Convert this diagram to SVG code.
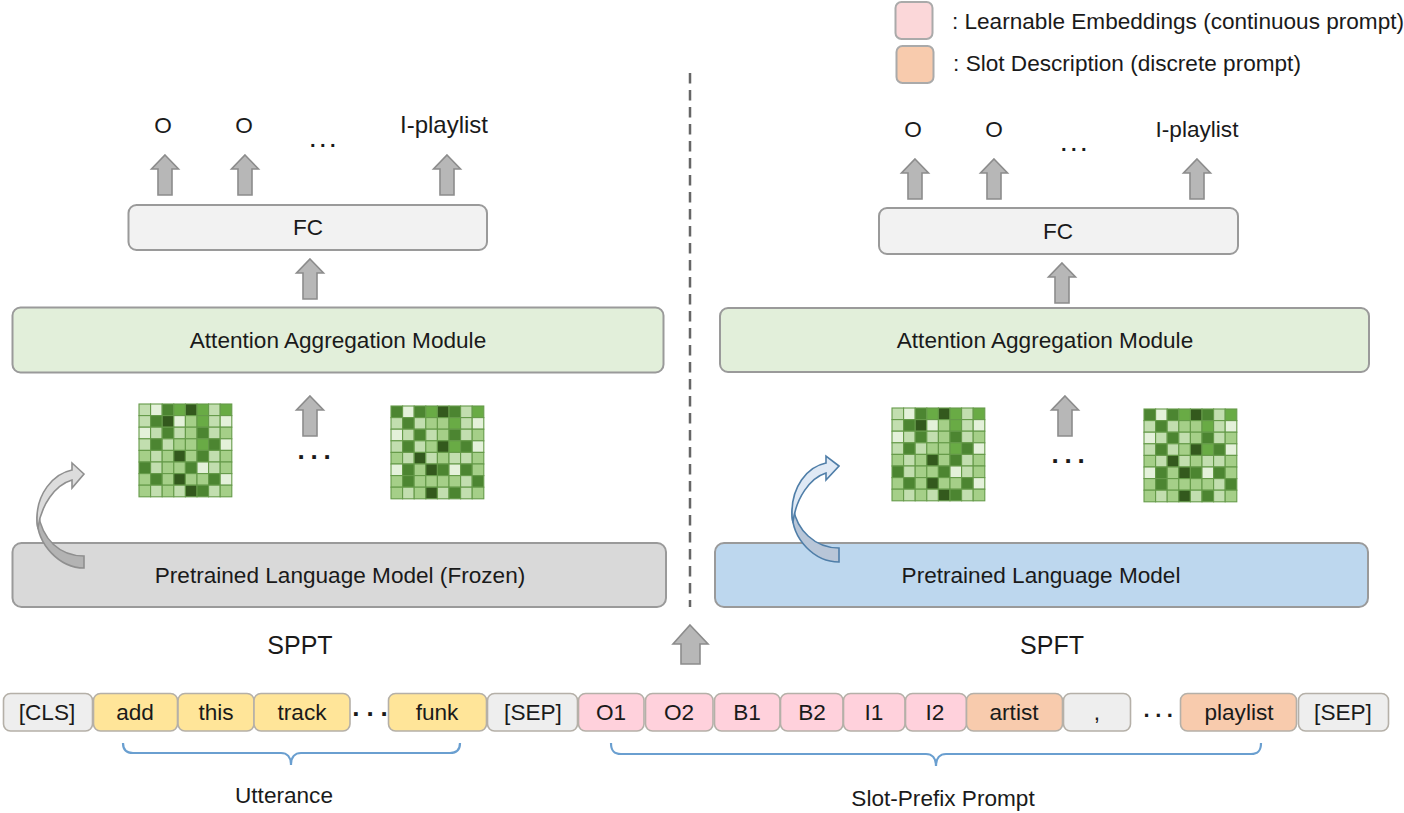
<svg xmlns="http://www.w3.org/2000/svg" xmlns:xlink="http://www.w3.org/1999/xlink" width="1404" height="813" viewBox="0 0 1404 813">
<style>
text{font-family:"Liberation Sans",Arial,sans-serif;font-size:22.6px;fill:#1a1a1a;text-anchor:middle}
.box{stroke:#9a9a9a;stroke-width:2}
.tok{stroke:#b5b0a8;stroke-width:1.6}
.gray{fill:#eeeeee}.yel{fill:#ffe599}.pink{fill:#ffd1dc}.org{fill:#f8cbad}
.arr{fill:#b7b7b7;stroke:#8c8c8c;stroke-width:1.6}
.brace{fill:none;stroke:#6a9fd0;stroke-width:2.200}
.dash{fill:none;stroke:#666;stroke-width:2.500;stroke-dasharray:10.500 6.500}
.dots{font-weight:bold}
.title{font-size:25px}
.c1{fill:#e4f1da}.c2{fill:#c2deaf}.c3{fill:#a5cf88}.c4{fill:#69ab45}.c5{fill:#4c8531}.c6{fill:#33591d}
.grid rect{stroke:#659a49;stroke-width:1.1;width:11.6px;height:11.6px}
</style>
<defs>
<path id="up" class="arr" d="M0,0L13.5,14H7V40H-7V14H-13.5Z"/>
<g id="g1" class="grid">
<rect x="0" y="0" class="c2"/><rect x="11.6" y="0" class="c1"/><rect x="23.2" y="0" class="c5"/><rect x="34.8" y="0" class="c4"/><rect x="46.4" y="0" class="c6"/><rect x="58" y="0" class="c4"/><rect x="69.6" y="0" class="c2"/><rect x="81.2" y="0" class="c4"/>
<rect x="0" y="11.6" class="c2"/><rect x="11.6" y="11.6" class="c5"/><rect x="23.2" y="11.6" class="c6"/><rect x="34.8" y="11.6" class="c1"/><rect x="46.4" y="11.6" class="c3"/><rect x="58" y="11.6" class="c4"/><rect x="69.6" y="11.6" class="c2"/><rect x="81.2" y="11.6" class="c1"/>
<rect x="0" y="23.2" class="c1"/><rect x="11.6" y="23.2" class="c2"/><rect x="23.2" y="23.2" class="c5"/><rect x="34.8" y="23.2" class="c2"/><rect x="46.4" y="23.2" class="c3"/><rect x="58" y="23.2" class="c5"/><rect x="69.6" y="23.2" class="c2"/><rect x="81.2" y="23.2" class="c3"/>
<rect x="0" y="34.8" class="c2"/><rect x="11.6" y="34.8" class="c5"/><rect x="23.2" y="34.8" class="c2"/><rect x="34.8" y="34.8" class="c3"/><rect x="46.4" y="34.8" class="c3"/><rect x="58" y="34.8" class="c4"/><rect x="69.6" y="34.8" class="c5"/><rect x="81.2" y="34.8" class="c1"/>
<rect x="0" y="46.4" class="c3"/><rect x="11.6" y="46.4" class="c2"/><rect x="23.2" y="46.4" class="c3"/><rect x="34.8" y="46.4" class="c6"/><rect x="46.4" y="46.4" class="c3"/><rect x="58" y="46.4" class="c5"/><rect x="69.6" y="46.4" class="c2"/><rect x="81.2" y="46.4" class="c3"/>
<rect x="0" y="58" class="c5"/><rect x="11.6" y="58" class="c2"/><rect x="23.2" y="58" class="c3"/><rect x="34.8" y="58" class="c3"/><rect x="46.4" y="58" class="c5"/><rect x="58" y="58" class="c1"/><rect x="69.6" y="58" class="c2"/><rect x="81.2" y="58" class="c3"/>
<rect x="0" y="69.6" class="c3"/><rect x="11.6" y="69.6" class="c5"/><rect x="23.2" y="69.6" class="c3"/><rect x="34.8" y="69.6" class="c6"/><rect x="46.4" y="69.6" class="c3"/><rect x="58" y="69.6" class="c3"/><rect x="69.6" y="69.6" class="c5"/><rect x="81.2" y="69.6" class="c1"/>
<rect x="0" y="81.2" class="c3"/><rect x="11.6" y="81.2" class="c2"/><rect x="23.2" y="81.2" class="c3"/><rect x="34.8" y="81.2" class="c2"/><rect x="46.4" y="81.2" class="c6"/><rect x="58" y="81.2" class="c5"/><rect x="69.6" y="81.2" class="c2"/><rect x="81.2" y="81.2" class="c3"/>
</g>
<g id="g2" class="grid">
<rect x="0" y="0" class="c5"/><rect x="11.6" y="0" class="c1"/><rect x="23.2" y="0" class="c5"/><rect x="34.8" y="0" class="c4"/><rect x="46.4" y="0" class="c6"/><rect x="58" y="0" class="c5"/><rect x="69.6" y="0" class="c2"/><rect x="81.2" y="0" class="c4"/>
<rect x="0" y="11.6" class="c2"/><rect x="11.6" y="11.6" class="c5"/><rect x="23.2" y="11.6" class="c2"/><rect x="34.8" y="11.6" class="c3"/><rect x="46.4" y="11.6" class="c3"/><rect x="58" y="11.6" class="c4"/><rect x="69.6" y="11.6" class="c2"/><rect x="81.2" y="11.6" class="c1"/>
<rect x="0" y="23.2" class="c1"/><rect x="11.6" y="23.2" class="c2"/><rect x="23.2" y="23.2" class="c5"/><rect x="34.8" y="23.2" class="c2"/><rect x="46.4" y="23.2" class="c3"/><rect x="58" y="23.2" class="c5"/><rect x="69.6" y="23.2" class="c2"/><rect x="81.2" y="23.2" class="c3"/>
<rect x="0" y="34.8" class="c2"/><rect x="11.6" y="34.8" class="c5"/><rect x="23.2" y="34.8" class="c2"/><rect x="34.8" y="34.8" class="c3"/><rect x="46.4" y="34.8" class="c6"/><rect x="58" y="34.8" class="c4"/><rect x="69.6" y="34.8" class="c5"/><rect x="81.2" y="34.8" class="c1"/>
<rect x="0" y="46.4" class="c3"/><rect x="11.6" y="46.4" class="c2"/><rect x="23.2" y="46.4" class="c6"/><rect x="34.8" y="46.4" class="c2"/><rect x="46.4" y="46.4" class="c3"/><rect x="58" y="46.4" class="c2"/><rect x="69.6" y="46.4" class="c2"/><rect x="81.2" y="46.4" class="c3"/>
<rect x="0" y="58" class="c1"/><rect x="11.6" y="58" class="c5"/><rect x="23.2" y="58" class="c3"/><rect x="34.8" y="58" class="c6"/><rect x="46.4" y="58" class="c5"/><rect x="58" y="58" class="c1"/><rect x="69.6" y="58" class="c5"/><rect x="81.2" y="58" class="c3"/>
<rect x="0" y="69.6" class="c3"/><rect x="11.6" y="69.6" class="c5"/><rect x="23.2" y="69.6" class="c3"/><rect x="34.8" y="69.6" class="c3"/><rect x="46.4" y="69.6" class="c3"/><rect x="58" y="69.6" class="c3"/><rect x="69.6" y="69.6" class="c2"/><rect x="81.2" y="69.6" class="c5"/>
<rect x="0" y="81.2" class="c3"/><rect x="11.6" y="81.2" class="c2"/><rect x="23.2" y="81.2" class="c3"/><rect x="34.8" y="81.2" class="c6"/><rect x="46.4" y="81.2" class="c2"/><rect x="58" y="81.2" class="c5"/><rect x="69.6" y="81.2" class="c2"/><rect x="81.2" y="81.2" class="c3"/>
</g>
</defs>

<g id="legend">
<rect x="895.5" y="2" width="37" height="37" rx="6" fill="#fbd7d9" stroke="#aaa" stroke-width="2"/>
<text x="1178" y="28.5">: Learnable Embeddings (continuous prompt)</text>
<rect x="896.5" y="46" width="37" height="37" rx="6" fill="#f8cbad" stroke="#aaa" stroke-width="2"/>
<text x="1127" y="70.5">: Slot Description (discrete prompt)</text>
</g>

<g id="connectors">
<path class="dash" d="M690,73V607"/>
<use href="#up" x="165" y="155"/><use href="#up" x="245" y="155"/><use href="#up" x="447" y="155"/>
<use href="#up" x="310" y="259"/><use href="#up" x="310" y="396"/>
<use href="#up" x="915" y="159"/><use href="#up" x="994" y="159"/><use href="#up" x="1197" y="159"/>
<use href="#up" x="1062" y="263"/><use href="#up" x="1065" y="396"/>
<path class="arr" d="M690,625L708,644H700V664H681V644H673Z"/>
<path class="brace" d="M123,743C123,750 126,753 133,753H281C287,753 291,757 291,765C291,757 295,753 301,753H450C457,753 460,750 460,743"/>
<path class="brace" d="M611,743C611,751 614,754 621,754H926C932,754 936,758 936,766C936,758 940,754 946,754H1251C1258,754 1261,751 1261,743"/>
</g>

<g id="spt-fc"><rect class="box" x="128.500" y="205" width="358.500" height="45" rx="8" fill="#f2f2f2"/><text x="308" y="235">FC</text></g>
<g id="spt-attn"><rect class="box" x="12.500" y="307.500" width="651" height="65" rx="8" fill="#e2efda"/><text x="338" y="348">Attention Aggregation Module</text></g>
<g id="spt-plm"><rect class="box" x="12.500" y="543" width="653.500" height="64" rx="9" fill="#d9d9d9"/><text x="340" y="583">Pretrained Language Model (Frozen)</text></g>
<g id="spt-labels">
<text x="163" y="133">O</text><text x="244" y="133">O</text><text class="dots" x="325" y="147" style="font-size:20px;letter-spacing:4.4px">...</text><text x="444" y="133" style="font-size:24px">I-playlist</text>
<text class="title" x="300" y="654">SPPT</text>
<text class="dots" x="317" y="459" style="font-size:26px;letter-spacing:5.8px">...</text>
</g>
<g id="spt-heat1"><use href="#g1" x="139" y="404"/></g>
<g id="spt-heat2"><use href="#g2" x="391" y="406"/></g>
<g id="spt-curve">
<path d="M37,518C37,545 60,568 84,568V556C60,556 42,540 38,512Z" fill="#b3b3b3" stroke="#8f8f8f" stroke-width="1.600"/>
<path d="M84,474L72,463V470C52,474 37,495 37,518C37,523 37,526 38,528C41,505 55,485 72,480V488Z" fill="#dcdcdc" stroke="#8f8f8f" stroke-width="1.600"/>
</g>

<g id="spf-fc"><rect class="box" x="879" y="208" width="359" height="46" rx="8" fill="#f2f2f2"/><text x="1058" y="239">FC</text></g>
<g id="spf-attn"><rect class="box" x="720" y="308" width="649" height="64" rx="8" fill="#e2efda"/><text x="1045" y="348">Attention Aggregation Module</text></g>
<g id="spf-plm"><rect class="box" x="715" y="543" width="653" height="64" rx="9" fill="#bdd7ee"/><text x="1041" y="583">Pretrained Language Model</text></g>
<g id="spf-labels">
<text x="913" y="137">O</text><text x="994" y="137">O</text><text class="dots" x="1076" y="151" style="font-size:20px;letter-spacing:4.4px">...</text><text x="1197" y="137">I-playlist</text>
<text class="title" x="1052" y="654">SPFT</text>
<text class="dots" x="1071" y="463" style="font-size:26px;letter-spacing:5.8px">...</text>
</g>
<g id="spf-heat1"><use href="#g1" x="892" y="408"/></g>
<g id="spf-heat2"><use href="#g2" x="1144" y="409"/></g>
<g id="spf-curve">
<path d="M792,512C792,540 815,562 839,562V548C815,548 796,530 793,506Z" fill="#b8c6d8" stroke="#4f7ea8" stroke-width="1.600"/>
<path d="M839,466L826,456V463C806,467 792,488 792,512C792,517 792,520 793,522C796,498 810,478 826,473V480Z" fill="#dfe9f5" stroke="#4f7ea8" stroke-width="1.600"/>
</g>

<g id="tokens">
<g id="t-cls"><rect class="tok gray" x="3.500" y="693.500" width="89" height="37.500" rx="7"/><text x="47" y="720">[CLS]</text></g>
<g id="t-add"><rect class="tok yel" x="93.500" y="693.500" width="84" height="37.500" rx="7"/><text x="135" y="720">add</text></g>
<g id="t-this"><rect class="tok yel" x="178" y="693.500" width="76" height="37.500" rx="7"/><text x="216" y="720">this</text></g>
<g id="t-track"><rect class="tok yel" x="254" y="693.500" width="96" height="37.500" rx="7"/><text x="302" y="720">track</text></g>
<text class="dots" x="373.400" y="716" style="font-size:26px;letter-spacing:6.800px">...</text>
<g id="t-funk"><rect class="tok yel" x="388.500" y="693.500" width="98" height="37.500" rx="7"/><text x="437" y="720">funk</text></g>
<g id="t-sep1"><rect class="tok gray" x="487.500" y="693.500" width="90" height="37.500" rx="7"/><text x="533" y="720">[SEP]</text></g>
<g id="t-o1"><rect class="tok pink" x="578.500" y="693.500" width="65.500" height="37.500" rx="7"/><text x="611" y="720">O1</text></g>
<g id="t-o2"><rect class="tok pink" x="645.500" y="693.500" width="67.500" height="37.500" rx="7"/><text x="679" y="720">O2</text></g>
<g id="t-b1"><rect class="tok pink" x="714.500" y="693.500" width="65.500" height="37.500" rx="7"/><text x="747" y="720">B1</text></g>
<g id="t-b2"><rect class="tok pink" x="780.500" y="693.500" width="62.500" height="37.500" rx="7"/><text x="812" y="720">B2</text></g>
<g id="t-i1"><rect class="tok pink" x="843.500" y="693.500" width="61.500" height="37.500" rx="7"/><text x="874" y="720">I1</text></g>
<g id="t-i2"><rect class="tok pink" x="905.500" y="693.500" width="61" height="37.500" rx="7"/><text x="935" y="720">I2</text></g>
<g id="t-artist"><rect class="tok org" x="966.500" y="693.500" width="96" height="37.500" rx="7"/><text x="1014" y="720">artist</text></g>
<g id="t-comma"><rect class="tok gray" x="1063.500" y="693.500" width="67" height="37.500" rx="7"/><text x="1097" y="720">,</text></g>
<text class="dots" x="1161" y="717" style="font-size:22px;letter-spacing:5.600px">...</text>
<g id="t-playlist"><rect class="tok org" x="1180.500" y="693.500" width="116" height="37.500" rx="7"/><text x="1239" y="720">playlist</text></g>
<g id="t-sep2"><rect class="tok gray" x="1298.500" y="693.500" width="90" height="37.500" rx="7"/><text x="1343" y="720">[SEP]</text></g>
</g>
<g id="brace-labels">
<text x="284" y="803">Utterance</text>
<text x="943" y="806">Slot-Prefix Prompt</text>
</g>
</svg>
